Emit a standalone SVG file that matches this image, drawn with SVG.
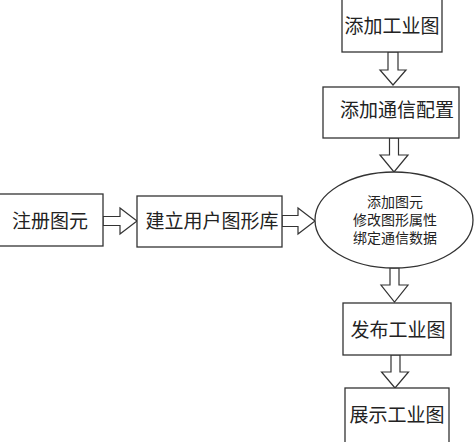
<svg xmlns="http://www.w3.org/2000/svg" width="474" height="442" viewBox="0 0 474 442">
<style>
.box{fill:#fff;stroke:#333;stroke-width:1.3}
.arr{fill:#fff;stroke:#333;stroke-width:1.2;stroke-linejoin:miter}
.t{font-family:"Liberation Serif","Noto Sans CJK SC",serif;font-size:19px;fill:#222;text-anchor:middle;dominant-baseline:central}
.s{font-family:"Liberation Serif","Noto Sans CJK SC",serif;font-size:14px;fill:#222;text-anchor:middle;dominant-baseline:central}
</style>
<rect width="474" height="442" fill="#fff"/>
<g id="connectors">
<polygon class="arr" points="388,52 398,52 398,70 406,70 393,85 380,70 388,70"/>
<polygon class="arr" points="389.5,138 398.5,138 398.5,155 408,155 394,172 380,155 389.5,155"/>
<polygon class="arr" points="390,268 399,268 399,285 408,285 394.5,302 381,285 390,285"/>
<polygon class="arr" points="391,355 400,355 400,372 408.5,372 395,388 381.5,372 391,372"/>
<polygon class="arr" points="103,216.5 120,216.5 120,208 137,221 120,234 120,225.5 103,225.5"/>
<polygon class="arr" points="282,215.5 298,215.5 298,208 315,221 298,234 298,226.5 282,226.5"/>
</g>
<g id="n1"><rect class="box" x="342" y="-2" width="100" height="54"/><text class="t" x="392" y="26">添加工业图</text></g>
<g id="n2"><rect class="box" x="323" y="87" width="136" height="51"/><text class="t" x="397" y="110">添加通信配置</text></g>
<g id="n3"><rect class="box" x="-2" y="194" width="105" height="52"/><text class="t" x="50" y="221">注册图元</text></g>
<g id="n4"><rect class="box" x="137" y="196" width="145" height="51"/><text class="t" x="212" y="221">建立用户图形库</text></g>
<g id="n5"><ellipse class="box" cx="394" cy="220" rx="79" ry="48"/><text class="s" x="395" y="202">添加图元</text><text class="s" x="395" y="220">修改图形属性</text><text class="s" x="395" y="238">绑定通信数据</text></g>
<g id="n6"><rect class="box" x="343" y="303" width="108" height="52"/><text class="t" x="398" y="330">发布工业图</text></g>
<g id="n7"><rect class="box" x="345" y="388" width="104" height="56"/><text class="t" x="397" y="415">展示工业图</text></g>
</svg>
